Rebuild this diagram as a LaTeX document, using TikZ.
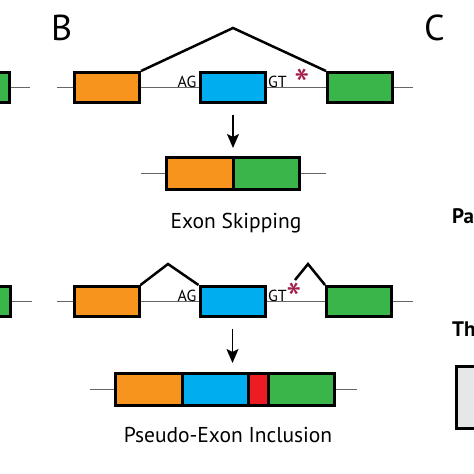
\documentclass[tikz,border=0pt]{standalone}
\usepackage{fontspec}
\setmainfont{PT Sans}
\usetikzlibrary{arrows.meta,positioning}

\definecolor{exorange}{HTML}{F7941D}
\definecolor{exblue}{HTML}{00AEEF}
\definecolor{exgreen}{HTML}{39B54A}
\definecolor{exred}{HTML}{ED1C24}
\definecolor{mutred}{HTML}{A3204A}
\definecolor{boxgray}{HTML}{E6E7E8}

\begin{document}
\begin{tikzpicture}[x=1pt, y=-1pt,
        exon/.style={rectangle, draw, line width=3pt, minimum width=65pt,
        minimum height=30pt, inner sep=0pt},
        joined/.style={exon, minimum height=32pt},
        intron/.style={draw=black!60, line width=1pt},
        splice/.style={line width=2.5pt, line join=miter},
        arrow/.style={line width=1.6pt, -{Stealth[length=14pt, width=12pt, inset=3pt]}},
        site/.style={font=\fontsize{16}{16}\selectfont, inner sep=0pt},
        mutation/.style={font=\fontsize{44}{44}\selectfont, text=mutred, inner sep=0pt},
        caption/.style={font=\fontsize{21.5}{21.5}\selectfont, inner sep=0pt},
        panel/.style={font=\fontsize{36}{36}\selectfont, inner sep=0pt},
        cutlabel/.style={font=\fontsize{21}{21}\selectfont\bfseries, inner sep=0pt}
    ]
        \useasboundingbox (0,0) rectangle (474,474);
        \clip (0,0) rectangle (474,474);

% Panel letters
        \node[panel, anchor=base west] (labB) at (51,40) {B};
        \node[panel, anchor=base west] (labC) at (424,40) {C};

% Cut-off panel A on the left
        \node[exon, fill=exgreen] (lg1) at (-23,87.5) {};
        \node[exon, fill=exgreen] (lg3) at (-22,301.5) {};
        \coordinate (le1) at (30,87.5);
        \coordinate (le3) at (32,301.5);
        \draw[intron] (lg1) -- (le1);
        \draw[intron] (lg3) -- (le3);

% Exon skipping: pre-mRNA
        \node[exon, fill=exorange] (ex1o) at (107,87.5) {};
        \node[exon, fill=exblue] (ex1b) at (233,87.5) {};
        \node[exon, fill=exgreen] (ex1g) at (360,87.5) {};
        \coordinate (s1) at (57,87.5);
        \coordinate (e1) at (413,87.5);
        \draw[intron] (s1) -- (ex1o) -- (ex1b) -- (ex1g) -- (e1);
        \coordinate (peak1) at (233,28);
        \draw[splice] (ex1o.north east) -- (peak1) -- (ex1g.north west);
        \node[site, anchor=base east] (ag1) at (196.5,87) {AG};
        \node[site, anchor=base west] (gt1) at (268,87) {GT};
        \node[mutation, anchor=base] (mut1) at (302,100) {*};

% Exon skipping: mRNA
        \node[joined, fill=exorange, minimum width=67pt] (ex2o) at (200,173.5) {};
        \node[joined, fill=exgreen, minimum width=66pt, right=-3pt of ex2o] (ex2g) {};
        \coordinate (s2) at (141,173.5);
        \coordinate (e2) at (326,173.5);
        \draw[intron] (s2) -- (ex2o);
        \draw[intron] (ex2g) -- (e2);
        \draw[arrow, shorten <=11pt, shorten >=8pt] (ex1b) -- (ex1b |- ex2o.north);
        \node[caption, anchor=base] (cap1) at (236,228) {Exon Skipping};

% Pseudo-exon inclusion: pre-mRNA
        \node[exon, fill=exorange] (ex3o) at (106.5,301.5) {};
        \node[exon, fill=exblue] (ex3b) at (232.5,301.5) {};
        \node[exon, fill=exgreen] (ex3g) at (359,301.5) {};
        \coordinate (s3) at (57,301.5);
        \coordinate (e3) at (413,301.5);
        \draw[intron] (s3) -- (ex3o) -- (ex3b) -- (ex3g) -- (e3);
        \coordinate (peak3a) at (168,264);
        \coordinate (peak3b) at (308,264);
        \coordinate (cryptic) at (295,280);
        \draw[splice] (ex3o.north east) -- (peak3a) -- (ex3b.north west);
        \draw[splice] (cryptic) -- (peak3b) -- (ex3g.north west);
        \node[site, anchor=base east] (ag3) at (196.5,301) {AG};
        \node[site, anchor=base west] (gt3) at (268,301) {GT};
        \node[mutation, anchor=base] (mut3) at (294,314) {*};

% Pseudo-exon inclusion: mRNA
        \node[joined, fill=exorange, minimum width=66.5pt] (ex4o) at (148.75,389.5) {};
        \node[joined, fill=exblue, minimum width=66pt, right=-3pt of ex4o] (ex4b) {};
        \node[joined, fill=exred, minimum width=20pt, right=-3pt of ex4b] (ex4r) {};
        \node[joined, fill=exgreen, minimum width=66.5pt, right=-3pt of ex4r] (ex4g) {};
        \coordinate (s4) at (90,389.5);
        \coordinate (e4) at (357,389.5);
        \draw[intron] (s4) -- (ex4o);
        \draw[intron] (ex4g) -- (e4);
        \draw[arrow, shorten <=11pt, shorten >=9pt] (ex3b) -- (ex3b |- ex4b.north);
        \node[caption, anchor=base] (cap2) at (228,442) {Pseudo-Exon Inclusion};

% Cut-off panel C on the right
        \node[cutlabel, anchor=base west] (labPa) at (452,223) {Pa};
        \node[cutlabel, anchor=base west] (labTh) at (452,336) {Th};
        \node[exon, fill=boxgray, minimum width=60pt, minimum height=62pt,
        anchor=north west] (cbox) at (455,365) {};

    \end{tikzpicture}
\end{document}
